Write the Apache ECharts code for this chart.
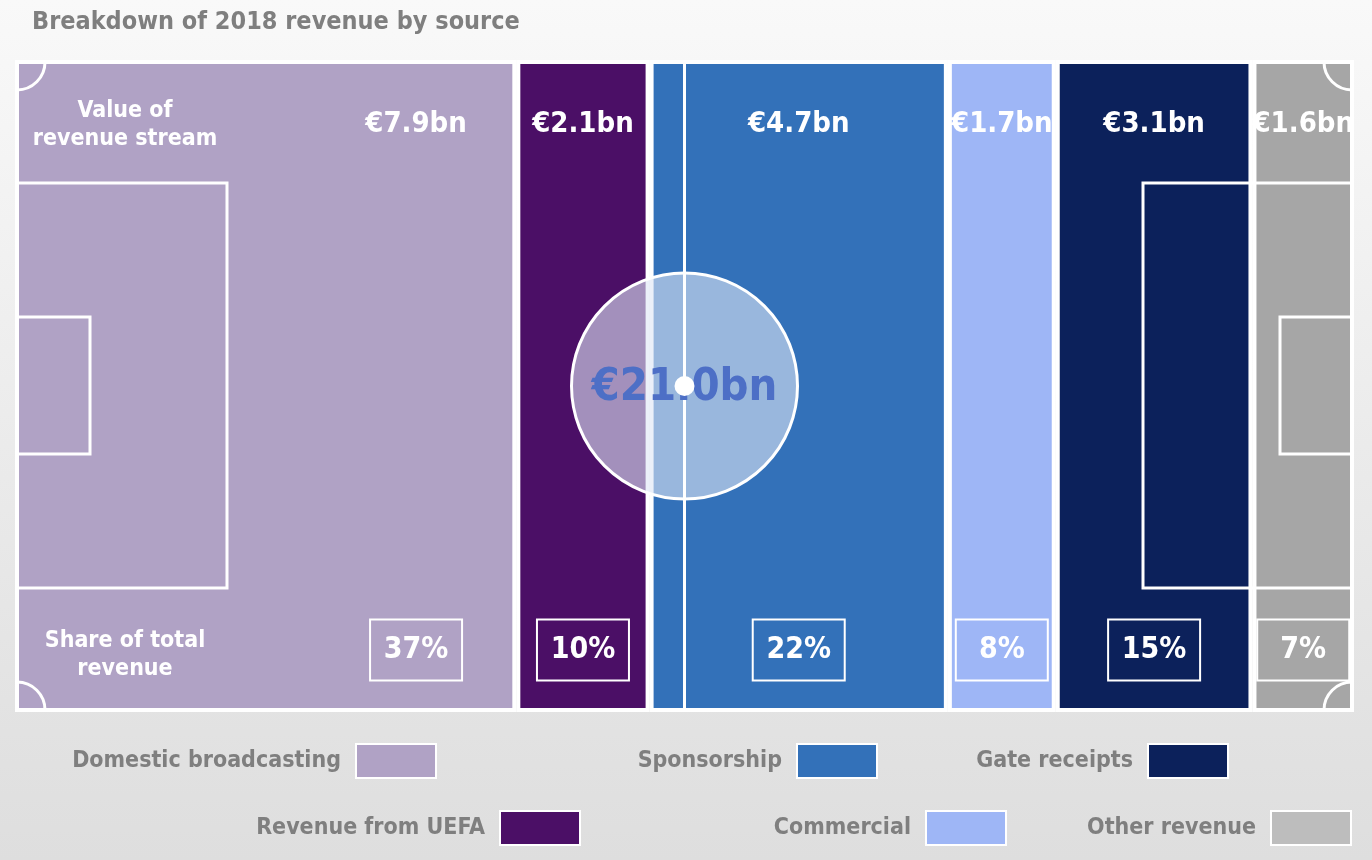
<!DOCTYPE html>
<html>
<head>
<meta charset="utf-8">
<script src="https://cdn.jsdelivr.net/npm/echarts@6/dist/echarts.min.js"></script>
<style>
html,body{margin:0;padding:0;}
#chart{width:1372px;height:860px;}
</style>
</head>
<body>
<div id="chart"></div>
<script>
// ---- data ----
const sources = ['Domestic broadcasting', 'Revenue from UEFA', 'Sponsorship', 'Commercial', 'Gate receipts', 'Other revenue'];
const revenueBn = [7.9, 2.1, 4.7, 1.7, 3.1, 1.6];
const sharePct = [37, 10, 22, 8, 15, 7];
const totalLabel = '€21.0bn';
const rowLabels = ['Value of\nrevenue stream', 'Share of total\nrevenue'];
const titleText = 'Breakdown of 2018 revenue by source';

// ---- styles ----
const colors = ['#b0a2c5', '#4b0f66', '#3371b9', '#9eb6f6', '#0c215b', '#a6a6a6'];
const legendSwatch = ['#b0a2c5', '#4b0f66', '#3371b9', '#9eb6f6', '#0c215b', '#bdbdbd'];
const FONT = "'Liberation Sans Narrow', 'DejaVu Sans Condensed', 'Noto Sans', sans-serif";
const GREY = '#7f7f7f';

const total = revenueBn.reduce((a, b) => a + b, 0);

const chart = echarts.init(document.getElementById('chart'), null, {renderer: 'canvas'});

const series = sources.map((name, i) => ({
  name: name,
  type: 'bar',
  stack: 'total',
  barWidth: '100%',
  barCategoryGap: '0%',
  data: [revenueBn[i]],
  itemStyle: {color: colors[i], borderColor: '#ffffff', borderWidth: 4},
  emphasis: {disabled: true},
  z: 2,
  label: {
    show: true,
    position: i === 0 ? ['80%', '50%'] : ['50%', '50%'],
    align: 'center',
    verticalAlign: 'middle',
    formatter: '{v|€' + revenueBn[i].toFixed(1) + 'bn}\n{g| }\n{p|' + sharePct[i] + '%}',
    rich: {
      v: {color: '#fff', fontFamily: FONT, fontWeight: 'bold', fontSize: 29, lineHeight: 66, height: 66, align: 'center'},
      g: {fontSize: 10, lineHeight: 462, height: 462},
      p: {color: '#fff', fontFamily: FONT, fontWeight: 'bold', fontSize: 30, width: 92, height: 61, lineHeight: 61,
          align: 'center', borderColor: '#fff', borderWidth: 2}
    }
  }
}));

const L = 17, R = 1352, T = 62, B = 710;
const midX = (L + R) / 2, midY = (T + B) / 2;
const lineStyle = {stroke: '#fff', lineWidth: 3, fill: null};

function rectLine(x1, y1, x2, y2) {
  return {type: 'polyline', silent: true, z: 10,
    shape: {points: [[x1, y1], [x2, y1], [x2, y2], [x1, y2]]}, style: lineStyle};
}

const graphic = [
  // half-way line
  {type: 'line', silent: true, z: 10, shape: {x1: midX, y1: T, x2: midX, y2: B}, style: lineStyle},
  // centre circle
  {type: 'circle', silent: true, z: 11, shape: {cx: midX, cy: midY, r: 113},
    style: {fill: 'rgba(222,230,245,0.6)', stroke: '#fff', lineWidth: 3}},
  {type: 'line', silent: true, z: 11, shape: {x1: midX, y1: midY - 113, x2: midX, y2: midY + 113}, style: lineStyle},
  {type: 'text', silent: true, z: 12, x: midX, y: midY + 2,
    style: {text: totalLabel, fill: '#4d6fc6', font: "bold 45px " + FONT, align: 'center', verticalAlign: 'middle'}},
  {type: 'circle', silent: true, z: 13, shape: {cx: midX, cy: midY, r: 10}, style: {fill: '#fff'}},
  // penalty boxes
  rectLine(L, 183, 227, 588),
  rectLine(L, 317, 90, 454),
  rectLine(R, 183, 1143, 588),
  rectLine(R, 317, 1280, 454),
  // corner arcs
  {type: 'arc', silent: true, z: 10, shape: {cx: L, cy: T, r: 28, startAngle: 0, endAngle: Math.PI / 2}, style: lineStyle},
  {type: 'arc', silent: true, z: 10, shape: {cx: R, cy: T, r: 28, startAngle: Math.PI / 2, endAngle: Math.PI}, style: lineStyle},
  {type: 'arc', silent: true, z: 10, shape: {cx: L, cy: B, r: 28, startAngle: -Math.PI / 2, endAngle: 0}, style: lineStyle},
  {type: 'arc', silent: true, z: 10, shape: {cx: R, cy: B, r: 28, startAngle: Math.PI, endAngle: Math.PI * 1.5}, style: lineStyle},
  // row labels
  {type: 'text', silent: true, z: 12, x: 125, y: 125,
    style: {text: rowLabels[0], fill: '#fff', font: "bold 23px " + FONT, align: 'center', verticalAlign: 'middle', lineHeight: 28}},
  {type: 'text', silent: true, z: 12, x: 125, y: 655,
    style: {text: rowLabels[1], fill: '#fff', font: "bold 23px " + FONT, align: 'center', verticalAlign: 'middle', lineHeight: 28}}
];

// legend positions: [right edge of swatch, centre y]
const legendPos = [[437, 760], [581, 827], [878, 760], [1007, 827], [1229, 760], [1352, 827]];
const legends = sources.map((name, i) => ({
  data: [{name: name, itemStyle: {color: legendSwatch[i]}}],
  right: 1372 - legendPos[i][0],
  top: legendPos[i][1] - 17,
  padding: 0,
  align: 'right',
  icon: 'rect',
  itemWidth: 80,
  itemHeight: 34,
  selectedMode: false,
  textStyle: {color: GREY, fontFamily: FONT, fontWeight: 'bold', fontSize: 23, padding: [0, 10, 0, 0]}
}));

chart.setOption({
  animation: false,
  backgroundColor: new echarts.graphic.LinearGradient(0, 0, 0, 1, [
    {offset: 0, color: '#f9f9f9'}, {offset: 1, color: '#dedede'}
  ]),
  title: {
    text: titleText, left: 27, top: 5,
    textStyle: {color: GREY, fontFamily: FONT, fontWeight: 'bold', fontSize: 25}
  },
  grid: {left: L - 2, right: 1372 - R - 2, top: T - 2, bottom: 860 - B - 2, containLabel: false},
  xAxis: {type: 'value', min: 0, max: total, show: false},
  yAxis: {type: 'category', data: ['2018'], show: false},
  legend: legends,
  series: series,
  graphic: graphic
});
</script>
</body>
</html>
